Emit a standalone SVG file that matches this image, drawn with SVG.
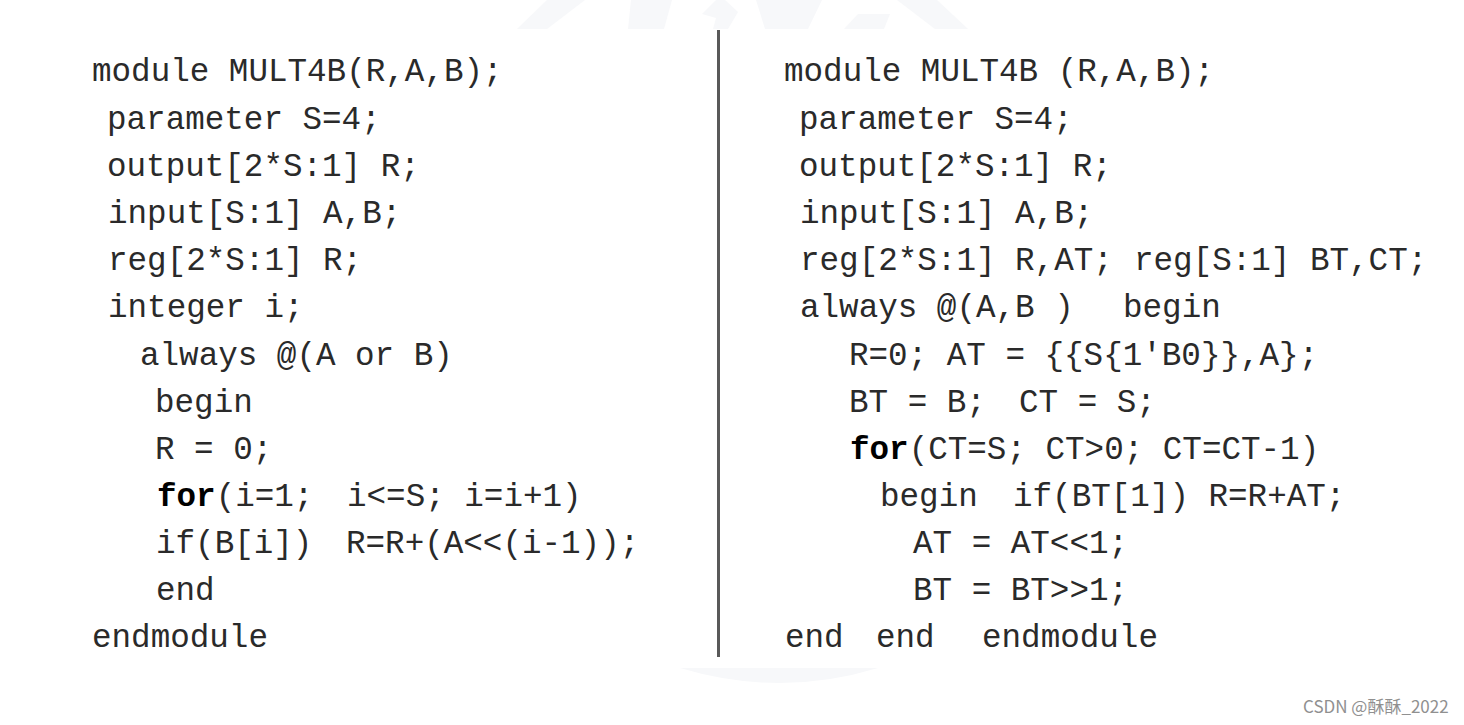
<svg xmlns="http://www.w3.org/2000/svg" width="1464" height="725" viewBox="0 0 1464 725">
<style>
text{font-family:"Liberation Mono","DejaVu Sans Mono",monospace;font-size:32.6px;fill:#2a2a2a;white-space:pre}
.b{font-weight:bold;fill:#000}
.w{font-family:"Noto Sans CJK SC","Liberation Sans",sans-serif;font-size:17px;fill:#909090}
.m{fill:#f7f8fa}
</style>
<rect width="1464" height="725" fill="#fff"/>
<g id="watermark">
<polygon class="m" points="547,0 585,0 547,29 517,29"/>
<polygon class="m" points="897,0 937,0 968,29 935,29"/>
<polygon class="m" points="631,0 672,0 664,29 628,29"/>
<polygon class="m" points="716,0 725,0 738,12 728,29 713,29 716,18 702,14"/>
<polygon class="m" points="756,0 822,0 808,29 765,29"/>
<polygon class="m" points="844,29 858,14 890,14 884,29"/>
<path class="m" d="M680,668H878Q780,698 680,668Z"/>
</g>
<g id="left">
<text x="92" y="81">module MULT4B(R,A,B);</text>
<text x="107" y="129">parameter S=4;</text>
<text x="107" y="176">output[2*S:1] R;</text>
<text x="108" y="223">input[S:1] A,B;</text>
<text x="108" y="270">reg[2*S:1] R;</text>
<text x="108" y="317">integer i;</text>
<text x="140" y="365">always @(A or B)</text>
<text x="155" y="412">begin</text>
<text x="155" y="459">R = 0;</text>
<text x="157" y="506"><tspan class="b">for</tspan>(i=1;<tspan x="347">i&lt;=S; i=i+1)</tspan></text>
<text x="156" y="553">if(B[i])<tspan x="346">R=R+(A&lt;&lt;(i-1));</tspan></text>
<text x="156" y="600">end</text>
<text x="92" y="647">endmodule</text>
</g>
<rect id="divider" x="717" y="30" width="3" height="627" fill="#595959"/>
<g id="right">
<text x="784" y="81">module MULT4B (R,A,B);</text>
<text x="799" y="129">parameter S=4;</text>
<text x="799" y="176">output[2*S:1] R;</text>
<text x="800" y="223">input[S:1] A,B;</text>
<text x="800" y="270">reg[2*S:1] R,AT;<tspan x="1134">reg[S:1] BT,CT;</tspan></text>
<text x="800" y="317">always @(A,B )<tspan x="1123">begin</tspan></text>
<text x="849" y="365">R=0; AT = {{S{1'B0}},A};</text>
<text x="849" y="412">BT = B;<tspan x="1019">CT = S;</tspan></text>
<text x="850" y="459"><tspan class="b">for</tspan>(CT=S; CT&gt;0; CT=CT-1)</text>
<text x="880" y="506">begin<tspan x="1013">if(BT[1]) R=R+AT;</tspan></text>
<text x="913" y="553">AT = AT&lt;&lt;1;</text>
<text x="913" y="600">BT = BT&gt;&gt;1;</text>
<text x="785" y="647">end<tspan x="876">end</tspan><tspan x="982">endmodule</tspan></text>
</g>
<text class="w" x="1303" y="713">CSDN @酥酥_2022</text>
</svg>
